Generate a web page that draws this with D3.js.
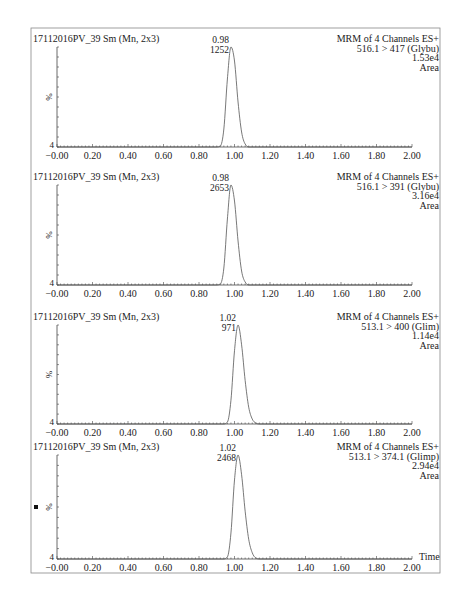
<!DOCTYPE html><html><head><meta charset="utf-8">
<script src="https://cdn.jsdelivr.net/npm/d3@7"></script>
<style>body{margin:0;background:#fff}text{font-family:"Liberation Serif",serif;fill:#222}</style></head><body>
<svg id="c" width="474" height="607"></svg>
<script>
const titles = ["17112016PV_39 Sm (Mn, 2x3)","17112016PV_39 Sm (Mn, 2x3)","17112016PV_39 Sm (Mn, 2x3)","17112016PV_39 Sm (Mn, 2x3)"];
const channels = ["516.1 > 417 (Glybu)","516.1 > 391 (Glybu)","513.1 > 400 (Glim)","513.1 > 374.1 (Glimp)"];
const intensities = ["1.53e4","3.16e4","1.14e4","2.94e4"];
const peakRT = ["0.98","0.98","1.02","1.02"];
const peakArea = ["1252","2653","971","2468"];
const xTicks = [0,0.2,0.4,0.6,0.8,1.0,1.2,1.4,1.6,1.8,2.0];
const trace1 = [[0,0],[0.90,0],[0.92,1],[0.94,18],[0.96,68],[0.98,100],[1.00,86],[1.02,45],[1.04,15],[1.06,3],[1.08,0],[2,0]];
const trace2 = [[0,0],[0.90,0],[0.92,1],[0.94,17],[0.96,66],[0.98,100],[1.00,84],[1.02,44],[1.04,14],[1.06,3],[1.08,0],[2,0]];
const trace3 = [[0,0],[0.94,0],[0.96,2],[0.98,24],[1.00,74],[1.02,100],[1.04,80],[1.06,44],[1.08,17],[1.10,5],[1.12,1],[1.14,0],[2,0]];
const trace4 = [[0,0],[0.94,0],[0.96,2],[0.98,25],[1.00,76],[1.02,100],[1.04,81],[1.06,46],[1.08,19],[1.10,6],[1.12,1],[1.14,0],[2,0]];
const traces = [trace1,trace2,trace3,trace4];

const svg = d3.select("#c");
svg.append("rect").attr("x",31).attr("y",28).attr("width",409).attr("height",545).attr("fill","none").attr("stroke","#888").attr("stroke-width",0.8);
const x = d3.scaleLinear().domain([0,2]).range([57,412]);
const tops = [38,176,316,446], bases=[147,285,424,559];
traces.forEach((tr,i)=>{
  const g = svg.append("g");
  const y = d3.scaleLinear().domain([0,100]).range([bases[i], tops[i]+9]);
  g.append("text").attr("x",33).attr("y",tops[i]+4).attr("font-size",10).text(titles[i]);
  ["MRM of 4 Channels ES+",channels[i],intensities[i],"Area"].forEach((t,k)=>
    g.append("text").attr("x",439).attr("y",tops[i]+4+k*9.5).attr("font-size",10).attr("text-anchor","end").text(t));
  g.append("line").attr("x1",x(0)).attr("x2",x(2)).attr("y1",bases[i]).attr("y2",bases[i]).attr("stroke","#444").attr("stroke-width",0.8);
  d3.range(0,101).forEach(k=>{const v=k*0.02;g.append("line").attr("x1",x(v)).attr("x2",x(v)).attr("y1",bases[i]).attr("y2",bases[i]-(k%10===0?3:1.5)).attr("stroke","#444").attr("stroke-width",0.6);});
  xTicks.forEach(v=>g.append("text").attr("x",x(v)).attr("y",bases[i]+11.5).attr("font-size",10).attr("text-anchor","middle").text(v===0?"\u22120.00":v.toFixed(2)));
  g.append("line").attr("x1",x(0)).attr("x2",x(0)).attr("y1",bases[i]).attr("y2",y(100)).attr("stroke","#444").attr("stroke-width",0.8);
  d3.range(0,101,10).forEach(v=>g.append("line").attr("x1",x(0)).attr("x2",x(0)+2).attr("y1",y(v)).attr("y2",y(v)).attr("stroke","#444").attr("stroke-width",0.6));
  g.append("text").attr("x",x(0)-3).attr("y",bases[i]+1).attr("font-size",9).attr("text-anchor","end").text("4");
  g.append("text").attr("transform",`translate(${x(0)-5},${y(50)}) rotate(-90)`).attr("font-size",9).attr("text-anchor","middle").text("%");
  const line = d3.line().x(d=>x(d[0])).y(d=>y(d[1])).curve(d3.curveMonotoneX);
  g.append("path").datum(tr).attr("d",line).attr("fill","none").attr("stroke","#555").attr("stroke-width",0.8);
  const pk = tr.reduce((a,b)=>b[1]>a[1]?b:a);
  g.append("text").attr("x",x(pk[0])-2).attr("y",y(100)-4).attr("font-size",9.5).attr("text-anchor","end").text(peakRT[i]);
  g.append("text").attr("x",x(pk[0])-2).attr("y",y(100)+5.5).attr("font-size",9.5).attr("text-anchor","end").text(peakArea[i]);
  if(i===3) g.append("text").attr("x",419).attr("y",bases[i]+1).attr("font-size",10).text("Time");
});
svg.append("rect").attr("x",34).attr("y",505).attr("width",4).attr("height",4).attr("fill","#111");
</script></body></html>
